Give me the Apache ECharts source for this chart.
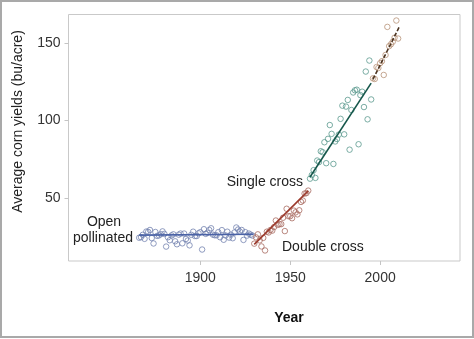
<!DOCTYPE html>
<html>
<head>
<meta charset="utf-8">
<script src="https://cdn.jsdelivr.net/npm/echarts@6/dist/echarts.min.js"></script>
<style>
  html, body { margin: 0; padding: 0; background: #fff; }
  #chart { width: 474px; height: 339px; }
</style>
</head>
<body>
<div id="chart"></div>
<script>
// US average corn yields (bu/acre) by year, grouped by hybrid era
const openPollinated = [
  [1866,24.3],[1867,24.7],[1868,26.2],[1869,23.6],[1870,28.3],[1871,28.1],[1872,29.3],[1873,24.1],
  [1874,20.6],[1875,28.0],[1876,25.5],[1877,25.8],[1878,26.6],[1879,28.4],[1880,26.8],[1881,18.6],
  [1882,24.6],[1883,22.7],[1884,25.8],[1885,26.5],[1886,22.0],[1887,20.1],[1888,26.3],[1889,27.0],
  [1890,20.7],[1891,27.0],[1892,23.5],[1893,22.5],[1894,19.4],[1895,26.2],[1896,28.2],[1897,25.4],
  [1898,25.4],[1899,27.2],[1900,27.9],[1901,16.7],[1902,29.8],[1903,26.8],[1904,27.5],[1905,29.3],
  [1906,30.4],[1907,26.3],[1908,25.9],[1909,25.9],[1910,27.9],[1911,24.6],[1912,29.2],[1913,23.0],
  [1914,25.8],[1915,28.2],[1916,24.4],[1917,26.3],[1918,24.0],[1919,27.7],[1920,30.9],[1921,29.6],
  [1922,28.3],[1923,29.3],[1924,22.9],[1925,27.9],[1926,25.7],[1927,27.0],[1928,26.3],[1929,25.7]
];
const doubleCross = [
  [1930,20.5],[1931,24.5],[1932,26.5],[1933,22.6],[1934,18.7],[1935,24.2],[1936,16.1],[1937,28.2],
  [1938,27.7],[1939,29.3],[1940,28.9],[1941,31.2],[1942,35.4],[1943,32.6],[1944,33.0],[1945,33.1],
  [1946,37.2],[1947,28.6],[1948,43.0],[1949,38.2],[1950,38.2],[1951,36.9],[1952,41.8],[1953,40.7],
  [1954,39.4],[1955,42.0],[1956,47.4],[1957,48.3],[1958,52.8],[1959,53.1],[1960,54.7]
];
const singleCross = [
  [1961,62.4],[1962,64.7],[1963,67.9],[1964,62.9],[1965,74.1],[1966,73.1],[1967,80.1],[1968,79.5],
  [1969,85.9],[1970,72.4],[1971,88.1],[1972,97.0],[1973,91.3],[1974,71.9],[1975,86.4],[1976,88.0],
  [1977,90.8],[1978,101.0],[1979,109.5],[1980,91.0],[1981,108.9],[1982,113.2],[1983,81.1],[1984,106.7],
  [1985,118.0],[1986,119.4],[1987,119.8],[1988,84.6],[1989,116.3],[1990,118.5],[1991,108.6],[1992,131.5],
  [1993,100.7],[1994,138.6],[1995,113.5]
];
const modernHybrids = [
  [1996,127.1],[1997,126.7],[1998,134.4],[1999,133.8],[2000,136.9],[2001,138.2],[2002,129.3],[2003,142.2],
  [2004,160.3],[2005,147.9],[2006,149.1],[2007,150.7],[2008,153.3],[2009,164.4],[2010,152.8]
];

// Trend line end points for each era
const openFit = [[1866,26.0],[1929.5,26.6]];
const doubleFit = [[1930,20.0],[1960,54.5]];
const singleFit = [[1961,63.5],[1995,124.0]];
const modernFit = [[1996,126.5],[2010.5,160.0]];

// Axis ticks
const xTicks = [1900, 1950, 2000];
const yTicks = [50, 100, 150];

const FONT = '"Liberation Sans", Arial, Helvetica, sans-serif';
const chart = echarts.init(document.getElementById('chart'), null, { renderer: 'canvas' });

function pts(data, color) {
  return {
    type: 'scatter', data: data, symbol: 'circle', symbolSize: 5.5,
    itemStyle: { color: 'rgba(255,255,255,0)', borderColor: color, borderWidth: 1 },
    silent: true, z: 2
  };
}
function fit(data, color, width, dash) {
  return {
    type: 'line', data: data, symbol: 'none', silent: true, z: 3,
    lineStyle: { color: color, width: width, type: dash || 'solid' }
  };
}

chart.setOption({
  animation: false,
  backgroundColor: '#fff',
  grid: {
    left: 68.5, right: 14, top: 14.5, bottom: 78,
    show: true, borderColor: '#c9c9c9', borderWidth: 1, backgroundColor: '#fff'
  },
  xAxis: {
    type: 'value', min: 1826.7, max: 2044.4,
    splitLine: { show: false },
    axisLine: { show: false },
    axisTick: { show: true, length: 4, customValues: xTicks, lineStyle: { color: '#c4c4c4' } },
    axisLabel: { customValues: xTicks, margin: 10, color: '#333', fontSize: 14, fontFamily: FONT,
                 formatter: function (v) { return String(v); } }
  },
  yAxis: {
    type: 'value', min: 9.3, max: 168.3,
    splitLine: { show: false },
    axisLine: { show: false },
    axisTick: { show: true, length: 4, customValues: yTicks, lineStyle: { color: '#c4c4c4' } },
    axisLabel: { customValues: yTicks, margin: 8, color: '#333', fontSize: 14, fontFamily: FONT,
                 formatter: function (v) { return String(v); } }
  },
  series: [
    pts(openPollinated, '#7483b0'),
    pts(doubleCross, '#a96b61'),
    pts(singleCross, '#5b9a8f'),
    pts(modernHybrids, '#b89479'),
    fit(openFit, '#4a62a6', 1.6),
    fit(doubleFit, '#9c3a2c', 1.6),
    fit(singleFit, '#16574b', 1.6),
    fit(modernFit, '#4b3320', 1.6, [4, 2])
  ],
  graphic: [
    { type: 'rect', silent: true, shape: { x: 1, y: 1, width: 472, height: 336 },
      style: { fill: 'none', stroke: '#a9a9a9', lineWidth: 2 } },
    { type: 'text', silent: true, x: 18, y: 121.5, rotation: Math.PI / 2,
      style: { text: 'Average corn yields (bu/acre)', font: '14px ' + FONT, fill: '#222',
               align: 'center', verticalAlign: 'middle' } },
    { type: 'text', silent: true, x: 289, y: 318.5,
      style: { text: 'Year', font: 'bold 14px ' + FONT, fill: '#111',
               align: 'center', verticalAlign: 'middle' } },
    { type: 'text', silent: true, x: 104, y: 222,
      style: { text: 'Open', font: '14px ' + FONT, fill: '#222', align: 'center', verticalAlign: 'middle' } },
    { type: 'text', silent: true, x: 103, y: 238,
      style: { text: 'pollinated', font: '14px ' + FONT, fill: '#222', align: 'center', verticalAlign: 'middle' } },
    { type: 'text', silent: true, x: 303, y: 182,
      style: { text: 'Single cross', font: '14px ' + FONT, fill: '#222', align: 'right', verticalAlign: 'middle' } },
    { type: 'text', silent: true, x: 282, y: 247,
      style: { text: 'Double cross', font: '14px ' + FONT, fill: '#222', align: 'left', verticalAlign: 'middle' } }
  ]
});
</script>
</body>
</html>
